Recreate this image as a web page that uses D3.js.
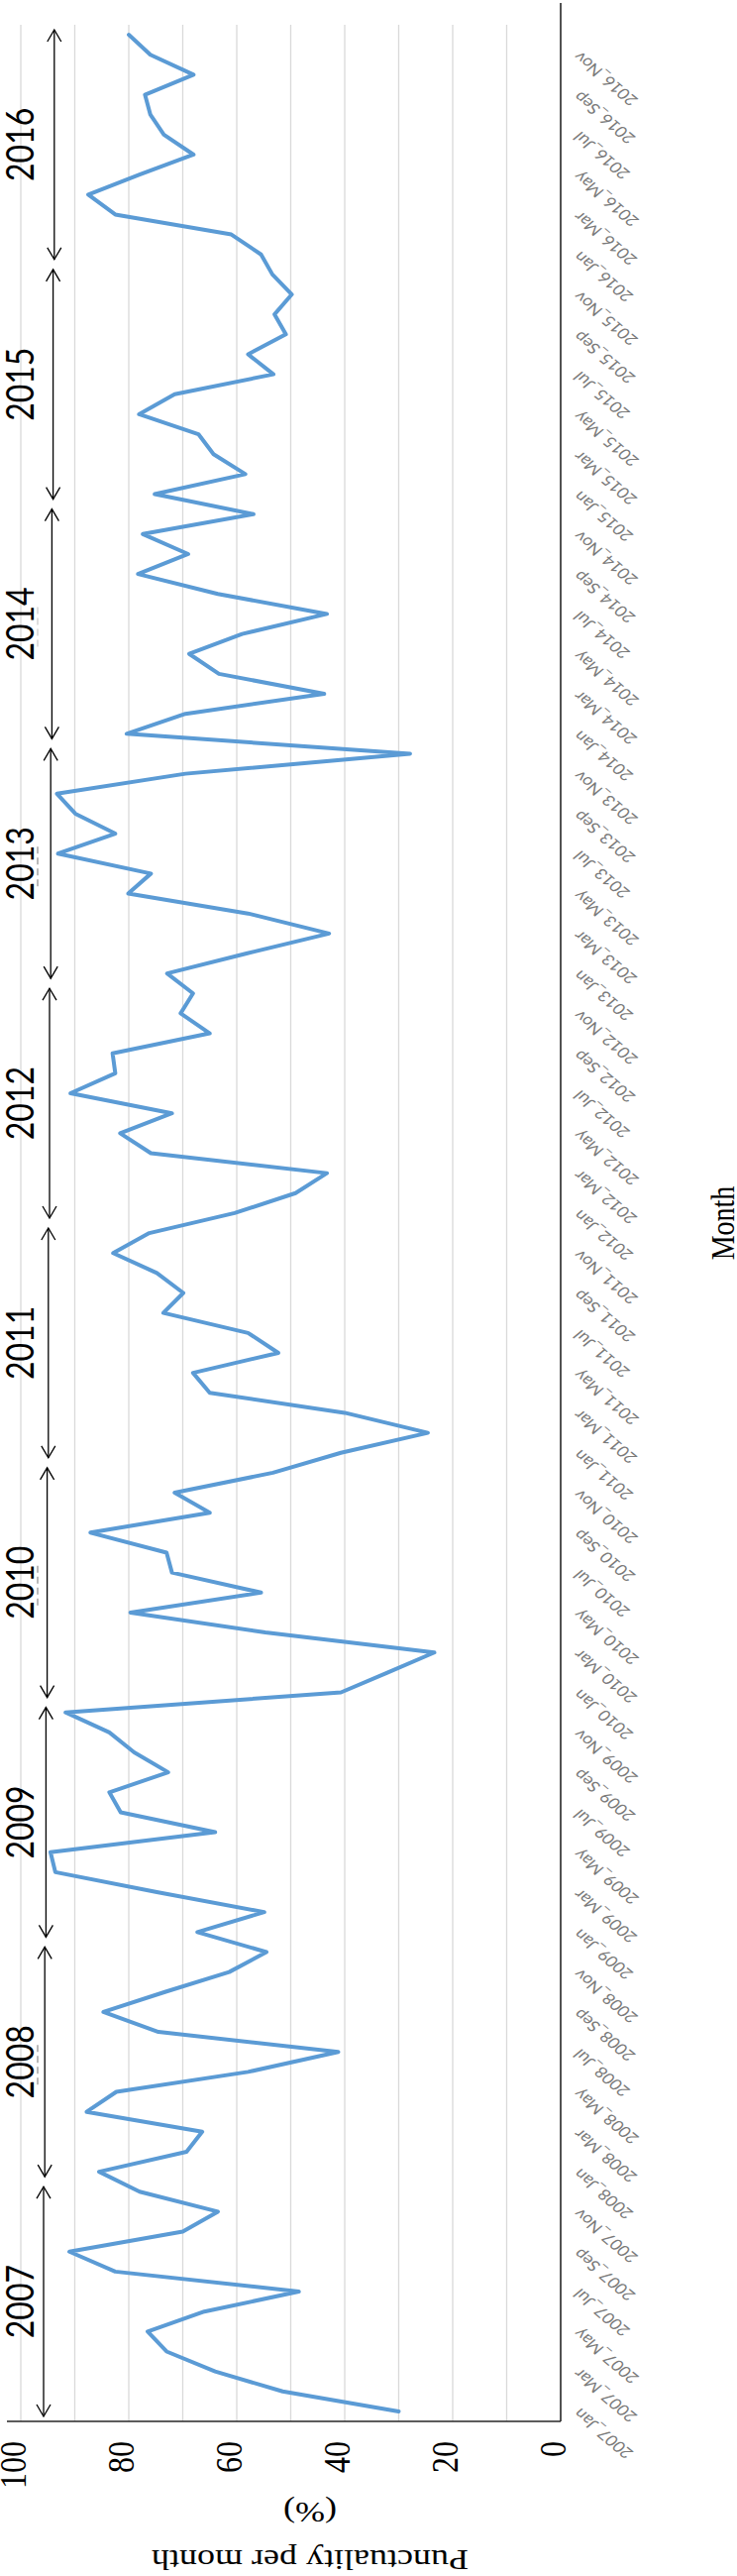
<!DOCTYPE html>
<html><head><meta charset="utf-8">
<script src="https://cdn.jsdelivr.net/npm/d3@7"></script>
<style>html,body{margin:0;padding:0;background:#fff}svg{display:block}</style>
</head><body>
<script>
// ---------- data ----------
const years = [2007, 2008, 2009, 2010, 2011, 2012, 2013, 2014, 2015, 2016];
const monthNames = ["Jan","Feb","Mar","Apr","May","Jun","Jul","Aug","Sep","Oct","Nov","Dec"];
const categories = years.flatMap(y => monthNames.map(m => `${y}_${m}`));

const v2007 = [30, 51.5, 64, 73, 76.5, 66, 48.5, 82.5, 91, 70, 63.5, 78];
const v2008 = [85.5, 69.3, 66.4, 87.8, 82.3, 57.9, 41.2, 74.5, 84.7, 73.3, 61.4, 54.5];
const v2009 = [67.3, 54.9, 74.8, 93.6, 94.5, 64, 81.5, 83.6, 72.7, 79, 83.6, 91.7];
const v2010 = [40.7, 32, 23.4, 54.7, 79.7, 55.5, 72, 73, 87.1, 65, 71.5, 53.3];
const v2011 = [40.7, 24.6, 40, 65, 68.1, 52.3, 57.9, 73.6, 69.9, 74.8, 82.9, 76.2];
const v2012 = [60.4, 49.1, 43.3, 75.9, 81.6, 72, 90.8, 82.5, 83, 65, 70.4, 68.1];
const v2013 = [72.9, 58.2, 42.9, 57.9, 80.1, 75.9, 93.1, 82.5, 89.9, 93.3, 69.5, 27.9];
const v2014 = [80.4, 69.5, 43.8, 63.3, 68.8, 59, 43.3, 63.5, 78.3, 69, 77.4, 56.9];
const v2015 = [75.2, 58.4, 64.3, 67.1, 78.1, 71.5, 53.2, 57.9, 50.9, 53, 49.8, 53.4];
const v2016 = [55.5, 61, 82.5, 87.5, 78, 68, 73.5, 76, 77, 68, 76, 80];
const punctuality = [].concat(v2007, v2008, v2009, v2010, v2011, v2012, v2013, v2014, v2015, v2016);

const yTicks = [0, 20, 40, 60, 80, 100];
const gridValues = [10, 20, 30, 40, 50, 60, 70, 80, 90, 100];
const yTitleLines = ["Punctuality per month", "(%)"];
const xTitle = "Month";
const dashedYears = [2008, 2010, 2013, 2014];

// ---------- layout ----------
const W = 744, H = 2599;
const K = 1.2; // the picture is stretched across its width
const SERIF = "'Liberation Serif','Times New Roman',serif";
const SANS = "Lato, 'Open Sans', sans-serif";

const svg = d3.select("body").append("svg").attr("width", W).attr("height", H);
// chart is built in its natural (landscape) frame, then turned 90° counter-clockwise
const g = svg.append("g").attr("transform", `translate(0,${H}) rotate(-90)`);

const plotL = 156, plotR = 2574, plotT = 21, plotB = 566;
const x = d3.scalePoint().domain(categories).range([plotL, plotR]).padding(0.5);
const y = d3.scaleLinear().domain([0, 100]).range([plotB, plotT]);
const step = x.step();

function place(X, Y, rot) {
  return `translate(${X},${Y}) scale(1,${K})` + (rot ? ` rotate(${rot})` : "");
}

// gridlines
g.append("g").selectAll("line").data(gridValues).join("line")
  .attr("x1", plotL).attr("x2", plotR)
  .attr("y1", d => y(d)).attr("y2", d => y(d))
  .attr("stroke", "#d9d9d9").attr("stroke-width", 1.3);

// axis lines
g.append("line").attr("x1", plotL).attr("x2", H - 3).attr("y1", plotB).attr("y2", plotB)
  .attr("stroke", "#262626").attr("stroke-width", 1.6);
g.append("line").attr("x1", plotL).attr("x2", plotL).attr("y1", 7).attr("y2", plotB)
  .attr("stroke", "#262626").attr("stroke-width", 1.6);

// value tick labels
g.append("g").selectAll("text").data(yTicks).join("text")
  .attr("transform", d => place(plotL - 20, y(d) + 5))
  .attr("text-anchor", "end")
  .attr("font-family", SERIF).attr("font-size", 32).attr("fill", "#000")
  .text(d => d);

// month tick labels (every other category)
const labelCats = categories.filter((c, i) => i % 2 === 0);
g.append("g").selectAll("text").data(labelCats).join("text")
  .attr("transform", d => place(x(d), plotB + 16, -45))
  .attr("text-anchor", "end").attr("dy", "0.35em")
  .attr("font-family", SANS).attr("font-size", 15).attr("fill", "#7a7a7a")
  .text(d => d);

// data line
g.append("path")
  .datum(categories.map((c, i) => ({ c, v: punctuality[i] })))
  .attr("fill", "none").attr("stroke", "#5b9bd5").attr("stroke-width", 4)
  .attr("stroke-linejoin", "round").attr("stroke-linecap", "round")
  .attr("d", d3.line().x(d => x(d.c)).y(d => y(d.v)));

// year annotations: double arrows + labels
years.forEach((yr, i) => {
  const x0 = x(`${yr}_Jan`) - step / 2 + 5;
  const x1 = x(`${yr}_Dec`) + step / 2 - 5;
  const ay = 44 + i * 1.2;
  const a = g.append("g").attr("stroke", "#000").attr("stroke-width", 1.3).attr("fill", "none");
  a.append("line").attr("x1", x0).attr("x2", x1).attr("y1", ay).attr("y2", ay);
  a.append("path").attr("d", `M${x0 + 12},${ay - 7}L${x0},${ay}L${x0 + 12},${ay + 7}`);
  a.append("path").attr("d", `M${x1 - 12},${ay - 7}L${x1},${ay}L${x1 - 12},${ay + 7}`);
  const cx = (x(`${yr}_Jan`) + x(`${yr}_Dec`)) / 2;
  g.append("text").attr("transform", place(cx, 34))
    .attr("text-anchor", "middle")
    .attr("font-family", SANS).attr("font-size", 32).attr("fill", "#000")
    .text(yr);
  if (dashedYears.includes(yr)) {
    g.append("line").attr("x1", cx - 23).attr("x2", cx + 17).attr("y1", 38).attr("y2", 38)
      .attr("stroke", yr === 2014 ? "#c8c8c8" : "#8c8c8c").attr("stroke-width", 1.2)
      .attr("stroke-dasharray", "7,4");
  }
});

// axis titles
const yTitleY = 313;
yTitleLines.forEach((t, i) => {
  const xx = 16 + i * 48;
  g.append("text").attr("transform", place(xx, yTitleY, -90))
    .attr("text-anchor", "middle").attr("dominant-baseline", "central")
    .attr("font-family", SERIF).attr("font-size", 30).attr("fill", "#000")
    .text(t);
});
g.append("text").attr("transform", place((plotL + plotR) / 2, 741))
  .attr("text-anchor", "middle")
  .attr("font-family", SERIF).attr("font-size", 28).attr("fill", "#000")
  .text(xTitle);
</script>
</body></html>
